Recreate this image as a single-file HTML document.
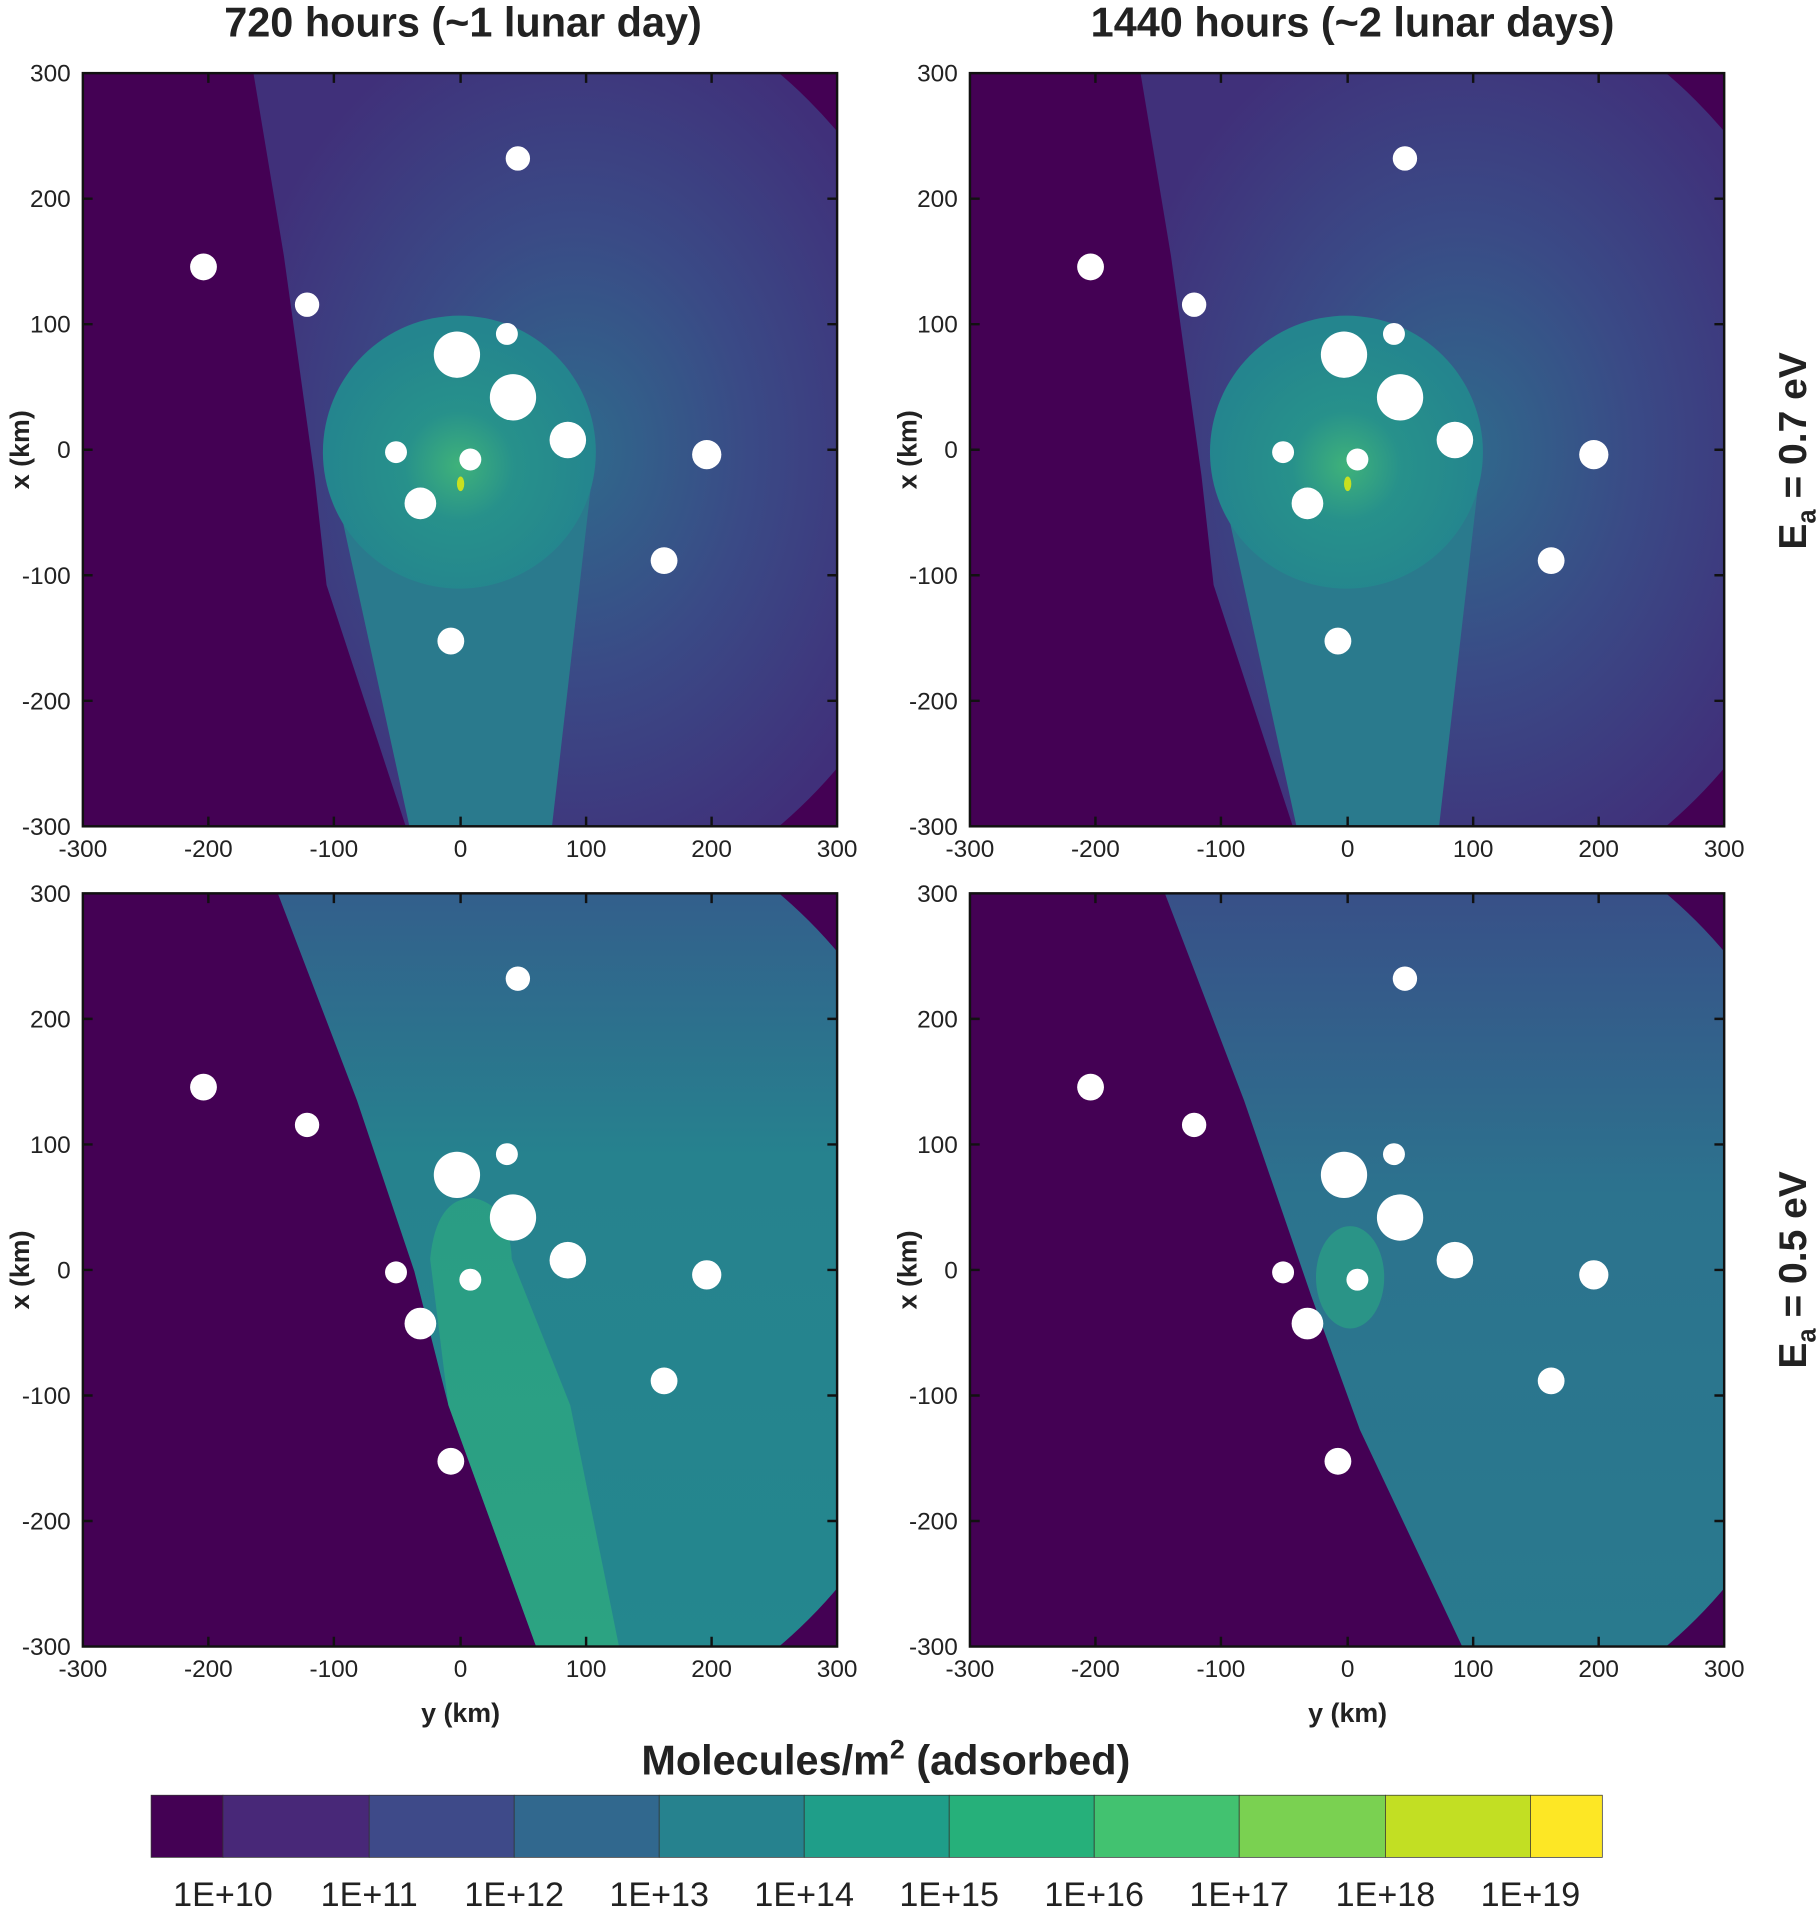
<!DOCTYPE html>
<html><head><meta charset="utf-8"><style>
html,body{margin:0;padding:0;background:#fff}
svg{display:block}
text{font-family:"Liberation Sans",Arial,sans-serif;fill:#222}
</style></head><body>
<svg width="1818" height="1911" viewBox="0 0 1492 1568" preserveAspectRatio="none" xmlns="http://www.w3.org/2000/svg">
<defs>
<clipPath id="dc"><circle cx="309.5" cy="309" r="405"/></clipPath>
<radialGradient id="noiseTop" cx="0.55" cy="0.5" r="0.6">
<stop offset="0" stop-color="#2f6a8c"/><stop offset="0.5" stop-color="#3a4a86"/><stop offset="1" stop-color="#40307a"/>
</radialGradient>
<radialGradient id="glow" cx="0.5" cy="0.55" r="0.5">
<stop offset="0" stop-color="#3fb27a"/><stop offset="0.4" stop-color="#27918b"/><stop offset="1" stop-color="#24858e"/>
</radialGradient>
<linearGradient id="blTop" x1="0" y1="0" x2="0" y2="1">
<stop offset="0" stop-color="#335f8c"/><stop offset="0.35" stop-color="#26828e"/><stop offset="1" stop-color="#24878e"/>
</linearGradient>
<linearGradient id="brTop" x1="0" y1="0" x2="0" y2="1">
<stop offset="0" stop-color="#385088"/><stop offset="0.4" stop-color="#2c738e"/><stop offset="1" stop-color="#297a8e"/>
</linearGradient>
<linearGradient id="blGreen" x1="0" y1="0" x2="0" y2="1">
<stop offset="0" stop-color="#2aa183"/><stop offset="1" stop-color="#2ea880"/>
</linearGradient>
<g id="holes" fill="#fff">
<circle cx="357" cy="70" r="10"/><circle cx="99" cy="159" r="11"/><circle cx="184" cy="190" r="10"/>
<circle cx="307" cy="231" r="19"/><circle cx="348" cy="214" r="9"/><circle cx="353" cy="266" r="19"/>
<circle cx="398" cy="301" r="15"/><circle cx="257" cy="311" r="9"/><circle cx="318" cy="317" r="9"/>
<circle cx="277" cy="353" r="13"/><circle cx="512" cy="313" r="12"/><circle cx="477" cy="400" r="11"/>
<circle cx="302" cy="466" r="11"/>
</g>
<g id="frame">
<rect x="0" y="0" width="619" height="618" fill="none" stroke="#111" stroke-width="2"/>
<g stroke="#111" stroke-width="2">
<path d="M103,618v-8M206,618v-8M310,618v-8M413,618v-8M516,618v-8M103,0v8M206,0v8M310,0v8M413,0v8M516,0v8"/>
<path d="M0,103h8M0,206h8M0,309h8M0,412h8M0,515h8M619,103h-8M619,206h-8M619,309h-8M619,412h-8M619,515h-8"/>
</g>
</g>
<g id="tl" font-size="20">
<text x="-10" y="7" text-anchor="end">300</text>
<text x="-10" y="110" text-anchor="end">200</text>
<text x="-10" y="213" text-anchor="end">100</text>
<text x="-10" y="316" text-anchor="end">0</text>
<text x="-10" y="419" text-anchor="end">-100</text>
<text x="-10" y="522" text-anchor="end">-200</text>
<text x="-10" y="625" text-anchor="end">-300</text>
<text x="0" y="643" text-anchor="middle">-300</text>
<text x="103" y="643" text-anchor="middle">-200</text>
<text x="206" y="643" text-anchor="middle">-100</text>
<text x="310" y="643" text-anchor="middle">0</text>
<text x="413" y="643" text-anchor="middle">100</text>
<text x="516" y="643" text-anchor="middle">200</text>
<text x="619" y="643" text-anchor="middle">300</text>
<text transform="translate(-44,309) rotate(-90)" text-anchor="middle" font-weight="bold" font-size="22">x (km)</text>
</g>
<g id="topfield">
<rect width="619" height="618" fill="#440154"/>
<g clip-path="url(#dc)">
<polygon points="140,0 619,0 619,618 265,618 200,420 190,330 165,150" fill="url(#noiseTop)"/>
<polygon points="205,330 418,330 385,618 268,618" fill="#2a7a8d"/>
<circle cx="309" cy="311" r="112" fill="url(#glow)"/>
<ellipse cx="310" cy="337" rx="3" ry="6" fill="#c8e020"/>
</g>
<use href="#holes"/>
<use href="#frame"/>
</g>
</defs>

<text x="380" y="30" text-anchor="middle" font-size="34" font-weight="bold">720 hours (~1 lunar day)</text>
<text x="1110" y="30" text-anchor="middle" font-size="34" font-weight="bold">1440 hours (~2 lunar days)</text>

<g transform="translate(68,60)"><use href="#topfield"/><use href="#tl"/></g>
<g transform="translate(796,60)"><use href="#topfield"/><use href="#tl"/></g>

<g transform="translate(68,733)">
<rect width="619" height="618" fill="#440154"/>
<g clip-path="url(#dc)">
<path d="M160,0 L619,0 L619,618 L372,618 L300,420 L272,310 L225,170 Z" fill="url(#blTop)"/>
<path d="M285,300 Q290,250 320,250 Q350,255 352,300 L400,420 L440,618 L372,618 L300,420 Z" fill="url(#blGreen)" opacity="0.85"/>
</g>
<use href="#holes"/><use href="#frame"/><use href="#tl"/>
<text x="310" y="680" text-anchor="middle" font-weight="bold" font-size="22">y (km)</text>
</g>
<g transform="translate(796,733)">
<rect width="619" height="618" fill="#440154"/>
<g clip-path="url(#dc)">
<path d="M160,0 L619,0 L619,618 L404,618 L320,440 L280,330 L225,170 Z" fill="url(#brTop)"/>
<ellipse cx="312" cy="315" rx="28" ry="42" fill="#2a9a86" opacity="0.85"/>
</g>
<use href="#holes"/><use href="#frame"/><use href="#tl"/>
<text x="310" y="680" text-anchor="middle" font-weight="bold" font-size="22">y (km)</text>
</g>

<text transform="translate(1482,370) rotate(-90)" text-anchor="middle" font-size="32" font-weight="bold">E<tspan font-size="21" dy="8">a</tspan><tspan dy="-8"> = 0.7 eV</tspan></text>
<text transform="translate(1482,1042) rotate(-90)" text-anchor="middle" font-size="32" font-weight="bold">E<tspan font-size="21" dy="8">a</tspan><tspan dy="-8"> = 0.5 eV</tspan></text>

<text x="727" y="1456" text-anchor="middle" font-size="34" font-weight="bold">Molecules/m<tspan font-size="22" dy="-13">2</tspan><tspan dy="13"> (adsorbed)</tspan></text>

<g stroke="#333" stroke-width="0.6">
<rect x="124" y="1473" width="59" height="51" fill="#440154"/>
<rect x="183" y="1473" width="120" height="51" fill="#482878"/>
<rect x="303" y="1473" width="119" height="51" fill="#3e4a89"/>
<rect x="422" y="1473" width="119" height="51" fill="#31688e"/>
<rect x="541" y="1473" width="119" height="51" fill="#26828e"/>
<rect x="660" y="1473" width="119" height="51" fill="#1f9e89"/>
<rect x="779" y="1473" width="119" height="51" fill="#26b07a"/>
<rect x="898" y="1473" width="119" height="51" fill="#42c270"/>
<rect x="1017" y="1473" width="120" height="51" fill="#7ad151"/>
<rect x="1137" y="1473" width="119" height="51" fill="#c2df23"/>
<rect x="1256" y="1473" width="59" height="51" fill="#fde725"/>
</g>
<g font-size="28" text-anchor="middle">
<text x="183" y="1564">1E+10</text><text x="303" y="1564">1E+11</text><text x="422" y="1564">1E+12</text>
<text x="541" y="1564">1E+13</text><text x="660" y="1564">1E+14</text><text x="779" y="1564">1E+15</text>
<text x="898" y="1564">1E+16</text><text x="1017" y="1564">1E+17</text><text x="1137" y="1564">1E+18</text>
<text x="1256" y="1564">1E+19</text>
</g>
</svg>
</body></html>
